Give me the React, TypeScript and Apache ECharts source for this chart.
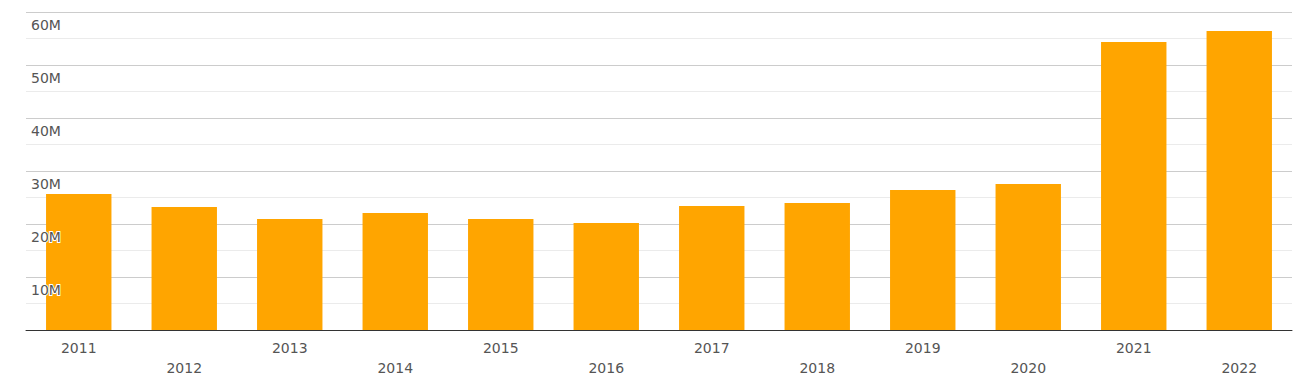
import React, { useEffect, useRef } from "react";
import * as echarts from "echarts";

const years = ["2011", "2012", "2013", "2014", "2015", "2016", "2017", "2018", "2019", "2020", "2021", "2022"];
const values = [25.66, 23.2, 20.94, 22.08, 20.94, 20.19, 23.4, 23.96, 26.4, 27.55, 54.34, 56.4];
const yTicks = [0, 10, 20, 30, 40, 50, 60];

export default function App() {
  const ref = useRef<HTMLDivElement>(null);
  useEffect(() => {
    document.body.style.margin = "0";
    const chart = echarts.init(ref.current!, undefined, { renderer: "svg" });
    const yMin = yTicks[0];
    const yMax = yTicks[yTicks.length - 1];
    chart.setOption({
      animation: false,
      grid: { left: 26, right: 1, top: 12, bottom: 54, containLabel: false },
      xAxis: {
        type: "category",
        data: years,
        z: 20,
        axisLine: { show: true, lineStyle: { color: "#333", width: 1 } },
        axisTick: { show: false },
        axisLabel: {
          interval: 0,
          color: "#555",
          fontFamily: "DejaVu Sans",
          fontSize: 14,
          lineHeight: 20,
          margin: 8,
          formatter: (v: string, i: number) => (i % 2 === 1 ? "\n" + v : v),
        },
      },
      yAxis: [
        {
          type: "value",
          min: yMin,
          max: yMax,
          interval: 10,
          z: 0,
          axisLine: { show: false },
          axisTick: { show: false },
          axisLabel: { show: false },
          splitLine: { show: true, lineStyle: { color: "#cccccc", width: 1 } },
          minorTick: { show: false, splitNumber: 2 },
          minorSplitLine: { show: true, lineStyle: { color: "#ebebeb", width: 1 } },
        },
        {
          type: "value",
          position: "left",
          min: yMin,
          max: yMax,
          interval: 10,
          z: 20,
          axisLine: { show: false },
          axisTick: { show: false },
          splitLine: { show: false },
          axisLabel: {
            inside: true,
            showMinLabel: false,
            color: "#555",
            fontFamily: "DejaVu Sans",
            fontSize: 14,
            verticalAlign: "top",
            align: "left",
            padding: [6, 0, 0, 0],
            margin: 5,
            textBorderColor: "#fff",
            textBorderWidth: 2,
            formatter: (v: number) => (v === 0 ? "" : v + "M"),
          },
        },
      ],
      series: [
        {
          type: "bar",
          yAxisIndex: 0,
          data: values,
          barWidth: "62%",
          itemStyle: { color: "#ffa500" },
          z: 2,
        },
      ],
    });
    return () => chart.dispose();
  }, []);
  return <div ref={ref} style={{ width: 1293, height: 384 }} />;
}
